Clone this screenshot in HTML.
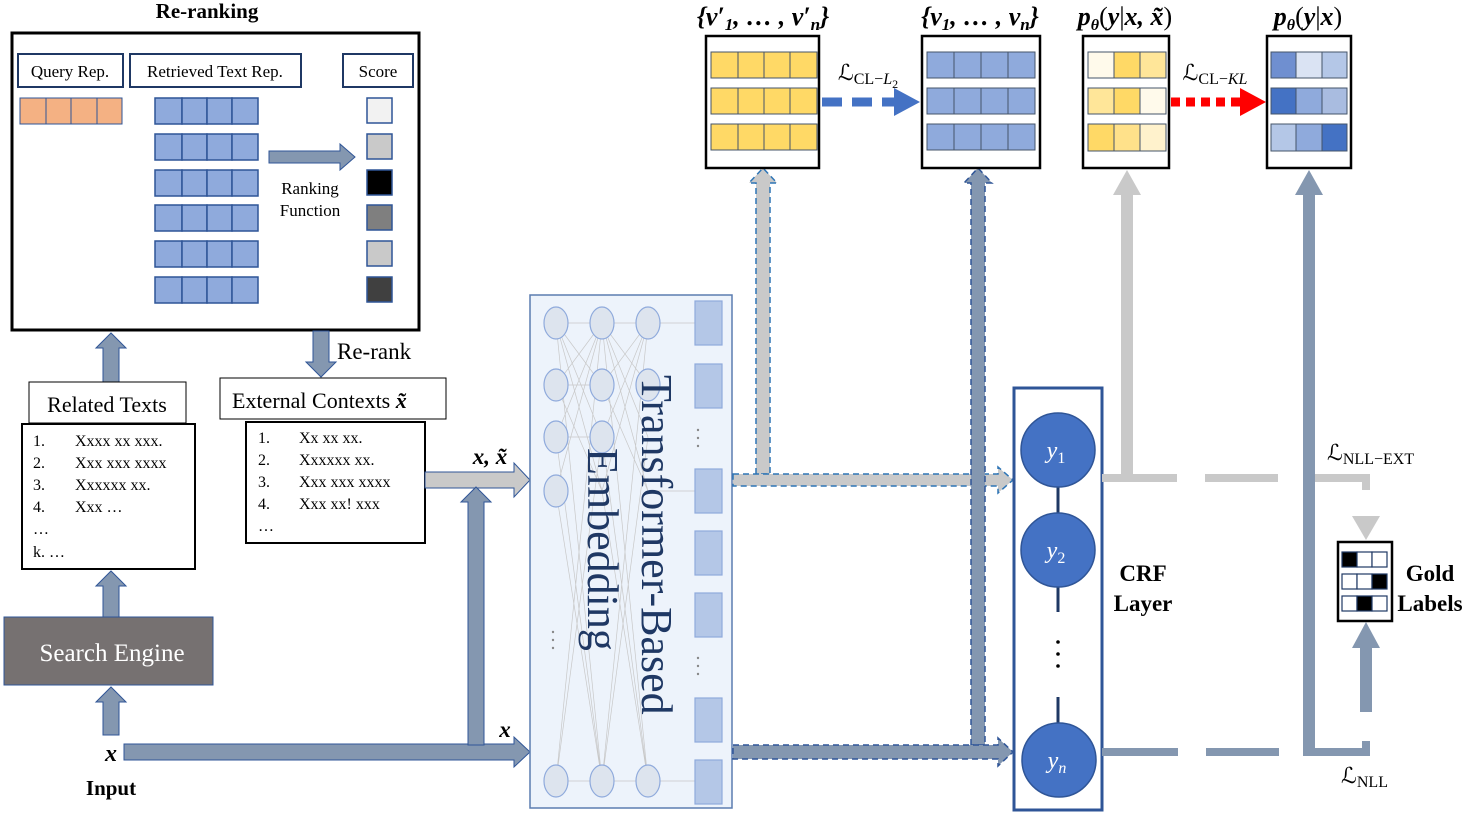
<!DOCTYPE html>
<html><head><meta charset="utf-8"><style>
body{margin:0;background:#fff}
svg{display:block}
text{font-family:"Liberation Serif","DejaVu Serif",serif}
</style></head><body>
<svg width="1466" height="815" viewBox="0 0 1466 815" xmlns="http://www.w3.org/2000/svg">
<text x="207" y="18" font-size="21" font-weight="bold" text-anchor="middle">Re-ranking</text>
<rect x="12" y="33" width="407" height="297" fill="#fff" stroke="#000" stroke-width="3"/>
<g fill="#fff" stroke="#1F3864" stroke-width="2">
<rect x="18" y="54" width="105" height="33"/><rect x="130" y="54" width="171" height="33"/><rect x="343" y="54" width="70" height="33"/>
</g>
<g font-size="17" text-anchor="middle"><text x="70" y="77">Query Rep.</text><text x="215" y="77">Retrieved Text Rep.</text><text x="378" y="77">Score</text></g>
<g fill="#F4B183" stroke="#2F5597" stroke-width="1"><rect x="20" y="98" width="26" height="26"/><rect x="46" y="98" width="25" height="26"/><rect x="71" y="98" width="26" height="26"/><rect x="97" y="98" width="25" height="26"/></g>
<g fill="#8FAADC" stroke="#2F5597" stroke-width="1.5">
<g id="br"><rect x="155" y="98" width="27" height="26"/><rect x="182" y="98" width="25" height="26"/><rect x="207" y="98" width="25" height="26"/><rect x="232" y="98" width="26" height="26"/></g>
<use href="#br" y="36"/><use href="#br" y="72"/><use href="#br" y="107"/><use href="#br" y="143"/><use href="#br" y="179"/>
</g>
<polygon points="269,151 340,151 340,144 355,157 340,170 340,163 269,163" fill="#8497B0" stroke="#2F5597"/>
<g font-size="17" text-anchor="middle"><text x="310" y="194">Ranking</text><text x="310" y="216">Function</text></g>
<g stroke="#2F5597" stroke-width="1.5">
<rect x="367" y="98" width="25" height="25" fill="#F2F2F2"/><rect x="367" y="134" width="25" height="25" fill="#C9C9C9"/><rect x="367" y="170" width="25" height="25" fill="#000"/><rect x="367" y="205" width="25" height="25" fill="#7F7F7F"/><rect x="367" y="241" width="25" height="25" fill="#C9C9C9"/><rect x="367" y="277" width="25" height="25" fill="#404040"/>
</g>
<g fill="#8497B0" stroke="#2F5597" stroke-width="1">
<polygon points="103,382 103,348 96,348 111,333 126,348 119,348 119,382"/>
<polygon points="103,617 103,586 96,586 111,571 126,586 119,586 119,617"/>
<polygon points="103,735 103,702 96,702 111,687 126,702 119,702 119,735"/>
<polygon points="313,331 329,331 329,362 336,362 321,377 306,362 313,362"/>
</g>
<rect x="29" y="382" width="157" height="41" fill="#fff" stroke="#000" stroke-width="1"/>
<text x="107" y="412" font-size="22" text-anchor="middle">Related Texts</text>
<rect x="22" y="424" width="173" height="145" fill="#fff" stroke="#000" stroke-width="2"/>
<g font-size="16"><text x="33" y="446">1.</text><text x="75" y="446">Xxxx xx xxx.</text><text x="33" y="468">2.</text><text x="75" y="468">Xxx xxx xxxx</text><text x="33" y="490">3.</text><text x="75" y="490">Xxxxxx xx.</text><text x="33" y="512">4.</text><text x="75" y="512">Xxx …</text><text x="33" y="534">…</text><text x="33" y="557">k.   …</text></g>
<rect x="4" y="617" width="209" height="68" fill="#767171" stroke="#2F5597" stroke-width="1"/>
<text x="112" y="661" font-size="25" fill="#fff" text-anchor="middle">Search Engine</text>
<text x="111" y="761" font-size="24" font-weight="bold" font-style="italic" text-anchor="middle">x</text>
<text x="111" y="795" font-size="21" font-weight="bold" text-anchor="middle">Input</text>
<text x="337" y="359" font-size="23">Re-rank</text>
<rect x="220" y="378" width="226" height="41" fill="#fff" stroke="#000" stroke-width="1"/>
<text x="232" y="408" font-size="22">External Contexts <tspan font-weight="bold" font-style="italic">x̃</tspan></text>
<rect x="246" y="422" width="179" height="121" fill="#fff" stroke="#000" stroke-width="2"/>
<g font-size="16"><text x="258" y="443">1.</text><text x="299" y="443">Xx xx xx.</text><text x="258" y="465">2.</text><text x="299" y="465">Xxxxxx xx.</text><text x="258" y="487">3.</text><text x="299" y="487">Xxx xxx xxxx</text><text x="258" y="509">4.</text><text x="299" y="509">Xxx xx! xxx</text><text x="258" y="531">…</text></g>
<polygon points="425,472 514,472 514,463 530,480 514,497 514,488 425,488" fill="#C9C9C9" stroke="#2F5597"/>
<polygon points="124,744 514,744 514,737 530,752 514,767 514,760 124,760" fill="#8497B0" stroke="#2F5597"/>
<polygon points="468,745 468,502 461,502 476,487 491,502 484,502 484,745" fill="#8497B0" stroke="#2F5597"/>
<text x="490" y="464" font-size="23" font-weight="bold" font-style="italic" text-anchor="middle">x, x̃</text>
<text x="505" y="737" font-size="23" font-weight="bold" font-style="italic" text-anchor="middle">x</text>
<rect x="530" y="295" width="202" height="513" fill="#EDF3FB" stroke="#5B7DB0" stroke-width="1.5"/>
<g stroke="#C8C8C8" stroke-width="0.7">
<path d="M556,323 L602,385 M556,323 L602,437 M556,323 L602,491 M556,323 L602,781 M556,385 L602,323 M556,385 L602,491 M556,437 L602,323 M556,437 L602,781 M556,491 L602,323 M556,491 L602,781 M556,781 L602,323 M556,781 L602,437 M556,323 L602,323 M556,385 L602,385 M556,437 L602,437 M556,781 L602,781"/>
<path d="M602,323 L648,385 M602,323 L648,437 M602,323 L648,491 M602,323 L648,781 M602,385 L648,323 M602,385 L648,491 M602,437 L648,323 M602,437 L648,781 M602,491 L648,323 M602,491 L648,781 M602,781 L648,323 M602,781 L648,437 M602,323 L648,323 M602,781 L648,781 M648,323 L708,323 M648,491 L708,491 M648,781 L708,781"/>
</g>
<g fill="#DDE4EE" stroke="#8FAADC" stroke-width="1.2">
<ellipse cx="556" cy="323" rx="12" ry="16"/><ellipse cx="602" cy="323" rx="12" ry="16"/><ellipse cx="648" cy="323" rx="12" ry="16"/>
<ellipse cx="556" cy="385" rx="12" ry="16"/><ellipse cx="602" cy="385" rx="12" ry="16"/><ellipse cx="648" cy="385" rx="12" ry="16"/>
<ellipse cx="556" cy="437" rx="12" ry="16"/><ellipse cx="602" cy="437" rx="12" ry="16"/>
<ellipse cx="556" cy="491" rx="12" ry="16"/>
<ellipse cx="556" cy="781" rx="12" ry="16"/><ellipse cx="602" cy="781" rx="12" ry="16"/><ellipse cx="648" cy="781" rx="12" ry="16"/>
</g>
<g fill="#B4C7E7" stroke="#8FAADC" stroke-width="1.2">
<rect x="695" y="301" width="27" height="44"/><rect x="695" y="364" width="27" height="44"/><rect x="695" y="469" width="27" height="44"/><rect x="695" y="531" width="27" height="44"/><rect x="695" y="593" width="27" height="44"/><rect x="695" y="698" width="27" height="44"/><rect x="695" y="760" width="27" height="44"/>
</g>
<g fill="#888"><circle cx="698" cy="430" r="1.2"/><circle cx="698" cy="438" r="1.2"/><circle cx="698" cy="446" r="1.2"/><circle cx="698" cy="658" r="1.2"/><circle cx="698" cy="666" r="1.2"/><circle cx="698" cy="674" r="1.2"/><circle cx="553" cy="632" r="1.2"/><circle cx="553" cy="640" r="1.2"/><circle cx="553" cy="648" r="1.2"/></g>
<text transform="translate(642,375) rotate(90)" font-size="44" fill="#1F3864">Transformer-Based</text>
<text transform="translate(588,448) rotate(90)" font-size="44" fill="#1F3864">Embedding</text>
<polygon points="756,474 756,183 749,183 763,168 777,183 770,183 770,474" fill="#C9C9C9" stroke="#2E75B6" stroke-width="1.5" stroke-dasharray="6,4"/>
<polygon points="733,474 998,474 998,467 1013,480 998,493 998,486 733,486" fill="#C9C9C9" stroke="#2E75B6" stroke-width="1.5" stroke-dasharray="6,4"/>
<polygon points="971,745 971,183 964,183 978,168 992,183 985,183 985,745" fill="#8497B0" stroke="#2F5597" stroke-width="1.5" stroke-dasharray="6,4"/>
<polygon points="733,745 998,745 998,738 1013,752 998,766 998,759 733,759" fill="#8497B0" stroke="#2F5597" stroke-width="1.5" stroke-dasharray="6,4"/>
<g font-size="26" font-weight="bold" font-style="italic" text-anchor="middle">
<text x="763" y="25">{v′<tspan font-size="17" dy="5">1</tspan><tspan dy="-5">, … , v′</tspan><tspan font-size="17" dy="5">n</tspan><tspan dy="-5">}</tspan></text>
<text x="980" y="25">{v<tspan font-size="17" dy="5">1</tspan><tspan dy="-5">, … , v</tspan><tspan font-size="17" dy="5">n</tspan><tspan dy="-5">}</tspan></text>
<text x="1125" y="25">p<tspan font-size="16" dy="5">θ</tspan><tspan dy="-5" font-weight="normal" font-style="normal">(</tspan>y<tspan font-weight="normal" font-style="normal">|</tspan>x, x̃<tspan font-weight="normal" font-style="normal">)</tspan></text>
<text x="1308" y="25">p<tspan font-size="16" dy="5">θ</tspan><tspan dy="-5" font-weight="normal" font-style="normal">(</tspan>y<tspan font-weight="normal" font-style="normal">|</tspan>x<tspan font-weight="normal" font-style="normal">)</tspan></text>
</g>
<g fill="#fff" stroke="#000" stroke-width="2.5">
<rect x="706" y="36" width="113" height="132"/><rect x="922" y="36" width="118" height="132"/><rect x="1083" y="36" width="86" height="132"/><rect x="1267" y="36" width="84" height="132"/>
</g>
<g stroke="#44546A" stroke-width="1">
<g fill="#FFD966" id="yr"><rect x="711" y="52" width="27" height="26"/><rect x="738" y="52" width="26" height="26"/><rect x="764" y="52" width="26" height="26"/><rect x="790" y="52" width="27" height="26"/></g>
<use href="#yr" y="36"/><use href="#yr" y="72"/>
<g fill="#8FAADC" id="bb"><rect x="927" y="52" width="27" height="26"/><rect x="954" y="52" width="27" height="26"/><rect x="981" y="52" width="27" height="26"/><rect x="1008" y="52" width="27" height="26"/></g>
<use href="#bb" y="36"/><use href="#bb" y="72"/>
<rect x="1088" y="52" width="26" height="26" fill="#FFFAEB"/><rect x="1114" y="52" width="26" height="26" fill="#FFD966"/><rect x="1140" y="52" width="26" height="26" fill="#FFE699"/>
<rect x="1088" y="88" width="26" height="26" fill="#FFE699"/><rect x="1114" y="88" width="26" height="26" fill="#FFD966"/><rect x="1140" y="88" width="26" height="26" fill="#FFFAEB"/>
<rect x="1088" y="124" width="26" height="27" fill="#FFD966"/><rect x="1114" y="124" width="26" height="27" fill="#FFE18A"/><rect x="1140" y="124" width="26" height="27" fill="#FFF2CC"/>
<rect x="1271" y="52" width="25" height="26" fill="#6F8FD0"/><rect x="1296" y="52" width="26" height="26" fill="#DAE3F3"/><rect x="1322" y="52" width="25" height="26" fill="#B4C7E7"/>
<rect x="1271" y="88" width="25" height="26" fill="#4472C4"/><rect x="1296" y="88" width="26" height="26" fill="#8FAADC"/><rect x="1322" y="88" width="25" height="26" fill="#A9BCE0"/>
<rect x="1271" y="124" width="25" height="27" fill="#B4C7E7"/><rect x="1296" y="124" width="26" height="27" fill="#8FAADC"/><rect x="1322" y="124" width="25" height="27" fill="#4472C4"/>
</g>
<line x1="822" y1="102" x2="896" y2="102" stroke="#4472C4" stroke-width="9" stroke-dasharray="20,10"/>
<polygon points="894,88 920,102 894,116" fill="#4472C4"/>
<line x1="1171" y1="102" x2="1242" y2="102" stroke="#FF0000" stroke-width="9" stroke-dasharray="9,6"/>
<polygon points="1240,88 1266,102 1240,116" fill="#FF0000"/>
<text x="868" y="80" font-size="22" text-anchor="middle">ℒ<tspan font-size="16" dy="4">CL−<tspan font-style="italic">L</tspan><tspan font-size="12" dy="4">2</tspan></tspan></text>
<text x="1215" y="80" font-size="22" text-anchor="middle">ℒ<tspan font-size="16" dy="4">CL−<tspan font-style="italic">KL</tspan></tspan></text>
<rect x="1014" y="388" width="88" height="422" fill="#fff" stroke="#2F5597" stroke-width="3"/>
<g stroke="#1F3864" stroke-width="3"><line x1="1058" y1="487" x2="1058" y2="513"/><line x1="1058" y1="587" x2="1058" y2="612"/><line x1="1058" y1="697" x2="1058" y2="723"/></g>
<g fill="#000"><circle cx="1058" cy="642" r="1.8"/><circle cx="1058" cy="654" r="1.8"/><circle cx="1058" cy="666" r="1.8"/></g>
<g fill="#4472C4" stroke="#2F5597" stroke-width="1.5"><circle cx="1058" cy="450" r="37"/><circle cx="1058" cy="550" r="37"/><circle cx="1059" cy="760" r="37"/></g>
<g fill="#fff" font-size="24" font-style="italic" text-anchor="middle">
<text x="1056" y="458">y<tspan font-size="16" font-style="normal" dy="5">1</tspan></text>
<text x="1056" y="558">y<tspan font-size="16" font-style="normal" dy="5">2</tspan></text>
<text x="1057" y="768">y<tspan font-size="16" dy="5">n</tspan></text>
</g>
<g font-size="23" font-weight="bold" text-anchor="middle"><text x="1143" y="581">CRF</text><text x="1143" y="611">Layer</text></g>
<g stroke="#C9C9C9" stroke-width="8" fill="none">
<line x1="1102" y1="478" x2="1177" y2="478"/><line x1="1205" y1="478" x2="1278" y2="478"/>
<polyline points="1308,478 1366,478 1366,490"/>
</g>
<polygon points="1121,478 1121,195 1113,195 1127,170 1141,195 1133,195 1133,478" fill="#C9C9C9"/>
<polygon points="1352,516 1380,516 1366,540" fill="#C9C9C9"/>
<g stroke="#8497B0" stroke-width="8" fill="none">
<line x1="1102" y1="752" x2="1178" y2="752"/><line x1="1206" y1="752" x2="1279" y2="752"/>
<polyline points="1309,752 1366,752 1366,741"/>
</g>
<polygon points="1303,756 1303,195 1295,195 1309,170 1323,195 1315,195 1315,756" fill="#8497B0"/>
<polygon points="1360,712 1360,648 1352,648 1366,622 1380,648 1372,648 1372,712" fill="#8497B0"/>
<rect x="1338" y="542" width="54" height="79" fill="#fff" stroke="#000" stroke-width="2.5"/>
<g stroke="#1F3864" stroke-width="1.2">
<rect x="1342" y="552" width="15" height="15" fill="#000"/><rect x="1357" y="552" width="15" height="15" fill="#fff"/><rect x="1372" y="552" width="15" height="15" fill="#fff"/>
<rect x="1342" y="574" width="15" height="15" fill="#fff"/><rect x="1357" y="574" width="15" height="15" fill="#fff"/><rect x="1372" y="574" width="15" height="15" fill="#000"/>
<rect x="1342" y="596" width="15" height="15" fill="#fff"/><rect x="1357" y="596" width="15" height="15" fill="#000"/><rect x="1372" y="596" width="15" height="15" fill="#fff"/>
</g>
<g font-size="23" font-weight="bold" text-anchor="middle"><text x="1430" y="581">Gold</text><text x="1430" y="611">Labels</text></g>
<text x="1327" y="460" font-size="22">ℒ<tspan font-size="16" dy="4">NLL−EXT</tspan></text>
<text x="1341" y="783" font-size="22">ℒ<tspan font-size="16" dy="4">NLL</tspan></text>
</svg>
</body></html>
